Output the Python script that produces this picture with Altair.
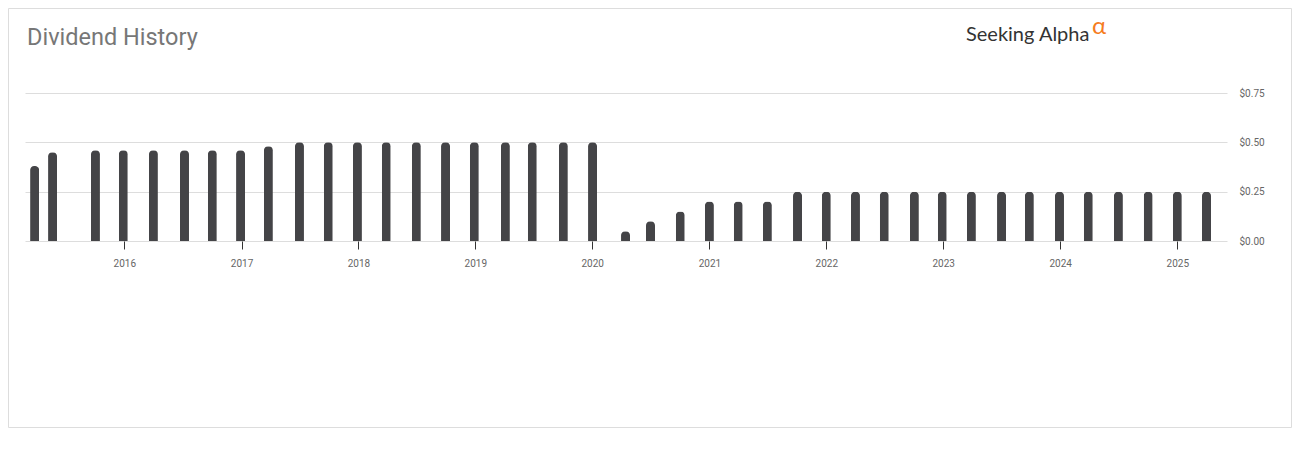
import altair as alt
import pandas as pd

# ex-dividend dates and amounts
dates = [
    "2015-03-27", "2015-05-22", "2015-10-03", "2015-12-29",
    "2016-04-01", "2016-07-07", "2016-10-02", "2016-12-29",
    "2017-03-26", "2017-07-01", "2017-09-29", "2017-12-29",
    "2018-03-29", "2018-07-01", "2018-09-30", "2018-12-29",
    "2019-04-05", "2019-06-28", "2019-10-03", "2020-01-02",
    "2020-04-14", "2020-07-01", "2020-10-02", "2021-01-01",
    "2021-04-01", "2021-07-01", "2021-10-03", "2022-01-01",
    "2022-04-02", "2022-07-01", "2022-10-03", "2022-12-29",
    "2023-03-30", "2023-07-02", "2023-09-27", "2023-12-30",
    "2024-03-29", "2024-07-01", "2024-10-02", "2025-01-01",
    "2025-04-02",
]
amounts = [
    0.38, 0.45, 0.46, 0.46,
    0.46, 0.46, 0.46, 0.46,
    0.48, 0.50, 0.50, 0.50,
    0.50, 0.50, 0.50, 0.50,
    0.50, 0.50, 0.50, 0.50,
    0.05, 0.10, 0.15, 0.20,
    0.20, 0.20, 0.25, 0.25,
    0.25, 0.25, 0.25, 0.25,
    0.25, 0.25, 0.25, 0.25,
    0.25, 0.25, 0.25, 0.25,
    0.25,
]
years = list(range(2016, 2026))
y_ticks = [0, 0.25, 0.5, 0.75]

df = pd.DataFrame({"date": dates, "amount": amounts})

x_domain = [
    alt.DateTime(year=2015, month=2, date=25, utc=True),
    alt.DateTime(year=2025, month=6, date=5, utc=True),
]
year_ticks = [alt.DateTime(year=y, month=1, date=1, utc=True) for y in years]

border = alt.Chart(alt.Data(values=[{}])).mark_rect(
    filled=False, stroke="#dddddd", strokeWidth=1
).encode(
    x=alt.value(-16.5), x2=alt.value(1266.5),
    y=alt.value(-84.5), y2=alt.value(334.5),
)

bars = alt.Chart(df).mark_bar(
    width=9, color="#444447", cornerRadiusTopLeft=4, cornerRadiusTopRight=4
).encode(
    x=alt.X("date:T", title=None,
            scale=alt.Scale(type="utc", domain=x_domain, padding=0, nice=False),
            axis=alt.Axis(values=year_ticks, format="%Y", grid=False, domain=False,
                          ticks=True, tickColor="#333333", tickSize=8,
                          labelPadding=9, labelFontSize=10, labelColor="#666666",
                          labelFont="Roboto")),
    y=alt.Y("amount:Q", title=None,
            scale=alt.Scale(domain=[0, 0.75], nice=False),
            axis=alt.Axis(orient="right", values=y_ticks, format="$.2f",
                          grid=True, gridColor="#dddddd", domain=False, ticks=False,
                          labelPadding=12, labelFontSize=10, labelColor="#666666",
                          labelFont="Roboto")),
)

title = alt.Chart(alt.Data(values=[{"t": "Dividend History"}])).mark_text(
    align="left", baseline="alphabetic", font="Roboto", fontSize=23.5, color="#777777"
).encode(x=alt.value(2), y=alt.value(-48.5), text="t:N")

logo = alt.Chart(alt.Data(values=[{"t": "Seeking Alpha"}])).mark_text(
    align="left", baseline="alphabetic", font="Lato", fontSize=20, color="#333333"
).encode(x=alt.value(941), y=alt.value(-52), text="t:N")

alpha = alt.Chart(alt.Data(values=[{"t": "α"}])).mark_text(
    align="left", baseline="alphabetic", font="Lato", fontSize=24, color="#f57c1f"
).encode(x=alt.value(1067), y=alt.value(-59), text="t:N")

chart = alt.layer(border, bars, title, logo, alpha).properties(
    width=1202,
    height=148,
    padding={"left": 17, "top": 85, "right": 65, "bottom": 187},
    autosize=alt.AutoSizeParams(type="none"),
    background="white",
).configure_view(strokeWidth=0)

chart.save("out.html", embed_options={"renderer": "svg", "actions": False})
